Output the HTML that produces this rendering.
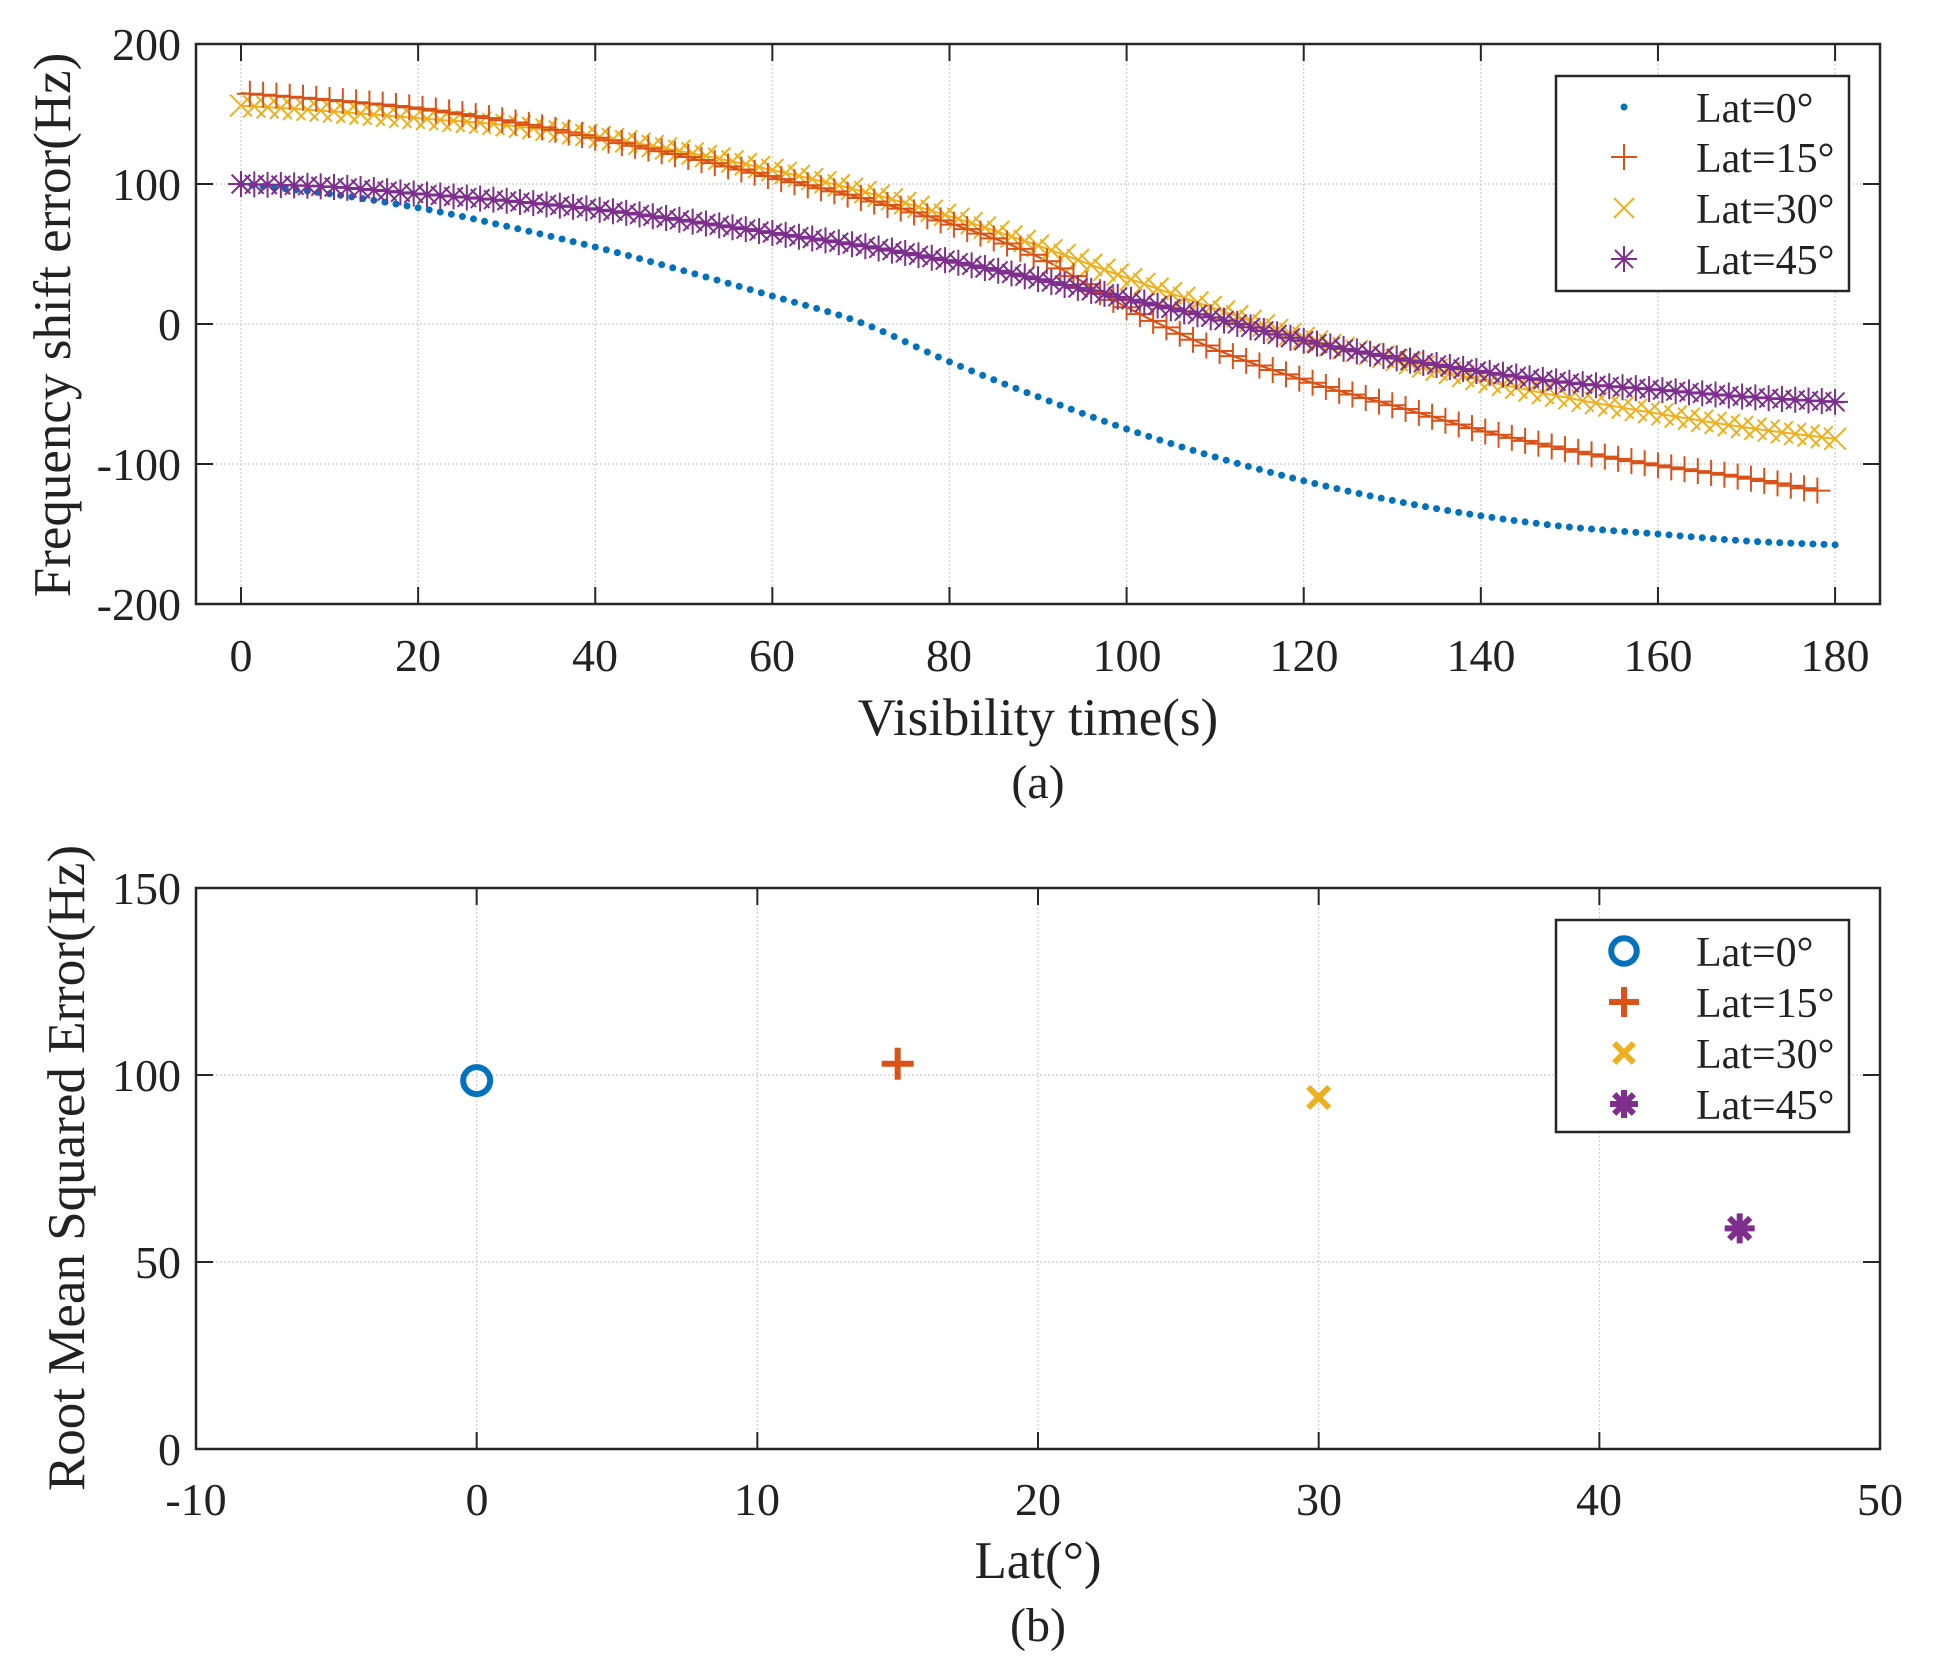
<!DOCTYPE html>
<html><head><meta charset="utf-8"><style>
body{margin:0;background:#fff}
svg{display:block}
text{font-family:"Liberation Serif",serif;fill:#222}
</style></head><body>
<svg id="s" width="1942" height="1676" xmlns="http://www.w3.org/2000/svg">
<rect width="1942" height="1676" fill="#fff"/>
<g id="g"></g>
<g font-size="46" text-anchor="end">
<text x="181" y="60">200</text><text x="181" y="200">100</text><text x="181" y="340">0</text><text x="181" y="480">-100</text><text x="181" y="620">-200</text>
</g>
<g font-size="46" text-anchor="middle">
<text x="241" y="671">0</text><text x="418" y="671">20</text><text x="595" y="671">40</text><text x="772" y="671">60</text><text x="949" y="671">80</text><text x="1127" y="671">100</text><text x="1304" y="671">120</text><text x="1481" y="671">140</text><text x="1658" y="671">160</text><text x="1835" y="671">180</text>
</g>
<text x="1038" y="735" font-size="53" text-anchor="middle">Visibility time(s)</text>
<text x="1038" y="798" font-size="48" text-anchor="middle">(a)</text>
<text transform="translate(70,325) rotate(-90)" font-size="53" text-anchor="middle">Frequency shift error(Hz)</text>
<g font-size="46" text-anchor="end">
<text x="181" y="904">150</text><text x="181" y="1091">100</text><text x="181" y="1278">50</text><text x="181" y="1465">0</text>
</g>
<g font-size="46" text-anchor="middle">
<text x="196" y="1515">-10</text><text x="477" y="1515">0</text><text x="757" y="1515">10</text><text x="1038" y="1515">20</text><text x="1319" y="1515">30</text><text x="1599" y="1515">40</text><text x="1880" y="1515">50</text>
</g>
<text x="1038" y="1578" font-size="53" text-anchor="middle">Lat(°)</text>
<text x="1038" y="1641" font-size="48" text-anchor="middle">(b)</text>
<text transform="translate(84,1168) rotate(-90)" font-size="53" text-anchor="middle">Root Mean Squared Error(Hz)</text>
</svg>
<script>
var G=document.getElementById("g"),out=[];
function add(s){out.push(s)}
var B="#0072BD",O="#D95319",Y="#EDB120",P="#7E2F8E";
var L=196,R=1880,T=44,Bt=604;
function tx(v){return 241+v*8.856} function ty(v){return 324-v*1.4}
for(var v=0;v<=180;v+=20){var x=tx(v);add('<line x1="'+x+'" y1="'+T+'" x2="'+x+'" y2="'+Bt+'" stroke="#ccc" stroke-width="1.2" stroke-dasharray="2,2"/>');
add('<line x1="'+x+'" y1="'+T+'" x2="'+x+'" y2="'+(T+17)+'" stroke="#262626" stroke-width="2"/><line x1="'+x+'" y1="'+Bt+'" x2="'+x+'" y2="'+(Bt-17)+'" stroke="#262626" stroke-width="2"/>');}
for(var v=-200;v<=200;v+=100){var y=ty(v);add('<line x1="'+L+'" y1="'+y+'" x2="'+R+'" y2="'+y+'" stroke="#ccc" stroke-width="1.2" stroke-dasharray="2,2"/>');
add('<line x1="'+L+'" y1="'+y+'" x2="'+(L+17)+'" y2="'+y+'" stroke="#262626" stroke-width="2"/><line x1="'+R+'" y1="'+y+'" x2="'+(R-17)+'" y2="'+y+'" stroke="#262626" stroke-width="2"/>');}
// monotone cubic-ish via Catmull-Rom
function interp(p,t){if(t<=p[0][0])return p[0][1];for(var i=0;i<p.length-1;i++){if(t<=p[i+1][0]){var a=p[i],b=p[i+1],a0=p[Math.max(i-1,0)],b1=p[Math.min(i+2,p.length-1)];var h=b[0]-a[0],f=(t-a[0])/h;
var m0=(b[1]-a0[1])/(b[0]-a0[0])*h,m1=(b1[1]-a[1])/(b1[0]-a[0])*h;var f2=f*f,f3=f2*f;
return (2*f3-3*f2+1)*a[1]+(f3-2*f2+f)*m0+(-2*f3+3*f2)*b[1]+(f3-f2)*m1}}return p[p.length-1][1]}
var d0=[[0,100],[10,93],[20,83],[27,74],[40,55],[50,38],[60,20],[70,1],[80,-27],[90,-52],[100,-75],[110,-95],[120,-112],[130,-126],[140,-137],[150,-145],[160,-150],[170,-155],[181,-158]];
var d15=[[0,165],[10,160],[20,154],[30,145],[40,133],[50,120],[60,105],[70,90],[80,72],[90,48],[100,12],[110,-18],[122,-44],[130,-58],[140,-76],[150,-90],[160,-101],[170,-110],[178,-119]];
var d30=[[0,156],[10,152],[20,147],[30,142],[40,134],[50,123],[60,110],[70,95],[80,77],[90,56],[100,33],[110,11],[120,-10],[130,-25],[140,-40],[150,-53],[160,-64],[170,-74],[180,-82]];
var d45=[[0,100],[10,98],[20,93],[30,88],[40,82],[50,74],[60,65],[70,56],[80,45],[90,32],[100,18],[110,4],[120,-12],[130,-24],[140,-34],[150,-42],[160,-47],[170,-52],[181,-56]];
var s="";
for(var t=0;t<=181;t+=1.25){s+='<circle cx="'+tx(t)+'" cy="'+ty(interp(d0,t))+'" r="3.5" fill="'+B+'"/>';}
add(s);
function line(d,c,end){var p="";for(var t=0;t<=end;t+=1){p+=(p?"L":"M")+tx(t).toFixed(1)+","+ty(interp(d,t)).toFixed(1)}add('<path d="'+p+'" fill="none" stroke="'+c+'" stroke-width="2"/>')}
line(d15,O,178);line(d30,Y,180);line(d45,P,181);
var h=13;s="";
for(var t=0;t<=180;t+=1.5){var x=tx(t),y=ty(interp(d30,t));var k=11;s+='<path d="M'+(x-k)+','+(y-k)+'L'+(x+k)+','+(y+k)+'M'+(x-k)+','+(y+k)+'L'+(x+k)+','+(y-k)+'" stroke="'+Y+'" stroke-width="2" fill="none"/>';}
add(s);s="";
for(var t=1;t<=178;t+=1.5){var x=tx(t),y=ty(interp(d15,t));s+='<path d="M'+(x-h)+','+y+'L'+(x+h)+','+y+'M'+x+','+(y-h)+'L'+x+','+(y+h)+'" stroke="'+O+'" stroke-width="2" fill="none"/>';}
add(s);s="";
for(var t=0;t<=181;t+=1.5){var x=tx(t),y=ty(interp(d45,t));var k=h*0.72;s+='<path d="M'+(x-h)+','+y+'L'+(x+h)+','+y+'M'+x+','+(y-h)+'L'+x+','+(y+h)+'M'+(x-k)+','+(y-k)+'L'+(x+k)+','+(y+k)+'M'+(x-k)+','+(y+k)+'L'+(x+k)+','+(y-k)+'" stroke="'+P+'" stroke-width="2" fill="none"/>';}
add(s);
add('<rect x="'+L+'" y="'+T+'" width="'+(R-L)+'" height="'+(Bt-T)+'" fill="none" stroke="#262626" stroke-width="2.5"/>');
add('<rect x="1556" y="76" width="293" height="215" fill="#fff" stroke="#262626" stroke-width="2.5"/>');
var ry=[107,157,208,259],lx=1624;
add('<circle cx="'+lx+'" cy="'+ry[0]+'" r="3.5" fill="'+B+'"/>');
add('<path d="M'+(lx-13)+','+ry[1]+'L'+(lx+13)+','+ry[1]+'M'+lx+','+(ry[1]-13)+'L'+lx+','+(ry[1]+13)+'" stroke="'+O+'" stroke-width="2"/>');
add('<path d="M'+(lx-10)+','+(ry[2]-10)+'L'+(lx+10)+','+(ry[2]+10)+'M'+(lx-10)+','+(ry[2]+10)+'L'+(lx+10)+','+(ry[2]-10)+'" stroke="'+Y+'" stroke-width="2"/>');
add('<path d="M'+(lx-13)+','+ry[3]+'L'+(lx+13)+','+ry[3]+'M'+lx+','+(ry[3]-13)+'L'+lx+','+(ry[3]+13)+'M'+(lx-9)+','+(ry[3]-9)+'L'+(lx+9)+','+(ry[3]+9)+'M'+(lx-9)+','+(ry[3]+9)+'L'+(lx+9)+','+(ry[3]-9)+'" stroke="'+P+'" stroke-width="2"/>');
var labs=["Lat=0°","Lat=15°","Lat=30°","Lat=45°"];
for(var i=0;i<4;i++)add('<text x="1696" y="'+(ry[i]+15)+'" font-size="42" fill="#000">'+labs[i]+'</text>');
var T2=888,B2=1449;
function bx(v){return 196+(v+10)*28.067} function by(v){return 1449-v*3.74}
for(var v=-10;v<=50;v+=10){var x=bx(v);add('<line x1="'+x+'" y1="'+T2+'" x2="'+x+'" y2="'+B2+'" stroke="#ccc" stroke-width="1.2" stroke-dasharray="2,2"/>');
add('<line x1="'+x+'" y1="'+T2+'" x2="'+x+'" y2="'+(T2+17)+'" stroke="#262626" stroke-width="2"/><line x1="'+x+'" y1="'+B2+'" x2="'+x+'" y2="'+(B2-17)+'" stroke="#262626" stroke-width="2"/>');}
for(var v=0;v<=150;v+=50){var y=by(v);add('<line x1="'+L+'" y1="'+y+'" x2="'+R+'" y2="'+y+'" stroke="#ccc" stroke-width="1.2" stroke-dasharray="2,2"/>');
add('<line x1="'+L+'" y1="'+y+'" x2="'+(L+17)+'" y2="'+y+'" stroke="#262626" stroke-width="2"/><line x1="'+R+'" y1="'+y+'" x2="'+(R-17)+'" y2="'+y+'" stroke="#262626" stroke-width="2"/>');}
function mk(x,y,t,sz){var o="";if(t==0)o='<circle cx="'+x+'" cy="'+y+'" r="'+(sz*0.75)+'" fill="none" stroke="'+B+'" stroke-width="6"/>';
if(t==1)o='<path d="M'+(x-sz)+','+y+'L'+(x+sz)+','+y+'M'+x+','+(y-sz)+'L'+x+','+(y+sz)+'" stroke="'+O+'" stroke-width="6"/>';
if(t==2){var k=sz*0.7;o='<path d="M'+(x-k)+','+(y-k)+'L'+(x+k)+','+(y+k)+'M'+(x-k)+','+(y+k)+'L'+(x+k)+','+(y-k)+'" stroke="'+Y+'" stroke-width="6"/>';}
if(t==3){var k=sz*0.7;o='<path d="M'+(x-sz)+','+y+'L'+(x+sz)+','+y+'M'+x+','+(y-sz)+'L'+x+','+(y+sz)+'M'+(x-k)+','+(y-k)+'L'+(x+k)+','+(y+k)+'M'+(x-k)+','+(y+k)+'L'+(x+k)+','+(y-k)+'" stroke="'+P+'" stroke-width="6"/>';}
return o}
add(mk(bx(0),by(98.5),0,18));add(mk(bx(15),by(103),1,16));add(mk(bx(30),by(94),2,15));add(mk(bx(45),by(59),3,15));
add('<rect x="'+L+'" y="'+T2+'" width="'+(R-L)+'" height="'+(B2-T2)+'" fill="none" stroke="#262626" stroke-width="2.5"/>');
add('<rect x="1556" y="920" width="293" height="212" fill="#fff" stroke="#262626" stroke-width="2.5"/>');
var ry2=[951,1002,1053,1104];
add(mk(lx,ry2[0],0,17));add(mk(lx,ry2[1],1,15));add(mk(lx,ry2[2],2,14));add(mk(lx,ry2[3],3,14));
for(var i=0;i<4;i++)add('<text x="1696" y="'+(ry2[i]+15)+'" font-size="42" fill="#000">'+labs[i]+'</text>');
G.innerHTML=out.join("");
</script>
</body></html>
